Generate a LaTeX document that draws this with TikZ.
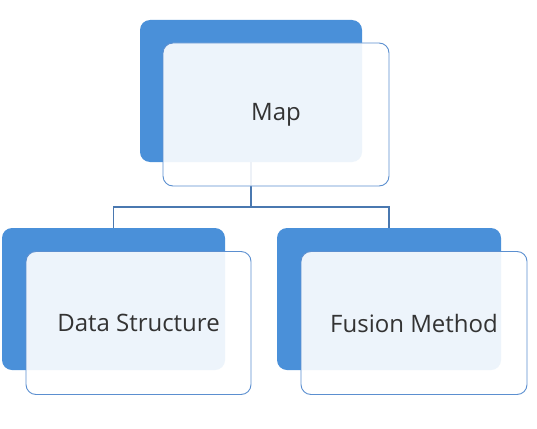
\documentclass[tikz,border=0pt]{standalone}
\usepackage{fontspec}
\setmainfont{Open Sans}
\definecolor{backblue}{HTML}{4A90D9}
\definecolor{edgeblue}{HTML}{5B8FD0}
\definecolor{linkblue}{HTML}{4A78B0}
\definecolor{txt}{HTML}{333333}
\begin{document}
\begin{tikzpicture}[x=1pt,y=-1pt,
  backbox/.style={fill=backblue,draw=none,rounded corners=10pt,minimum width=222pt,minimum height=142pt,inner sep=0pt},
  frontbox/.style={fill=white,fill opacity=0.9,text opacity=1,draw=edgeblue,line width=0.9pt,rounded corners=10pt,minimum width=226pt,minimum height=143pt,inner sep=0pt,text=txt,font=\fontsize{24}{28}\selectfont},
  link/.style={draw=linkblue,line width=1.4pt}]
\useasboundingbox (0,0) rectangle (537,428);
\fill[white] (0,0) rectangle (537,428);
% back boxes
\node[backbox] (mapb) at (251,91) {};
\node[backbox,minimum width=223pt] (dsb) at (113.5,299) {};
\node[backbox,minimum width=224pt] (fmb) at (389,299) {};
% connectors
\coordinate (j) at (251,207);
\draw[link] (mapb.south) -- (j);
\draw[link] (dsb.north) |- (j) -| (fmb.north);
% front boxes
\node[frontbox] (map) at (276,114.5) {Map};
\node[frontbox,minimum width=225pt] (ds) at (138.5,323) {Data Structure};
\node[frontbox] (fm) at (414,323) {Fusion Method};
\end{tikzpicture}
\end{document}
